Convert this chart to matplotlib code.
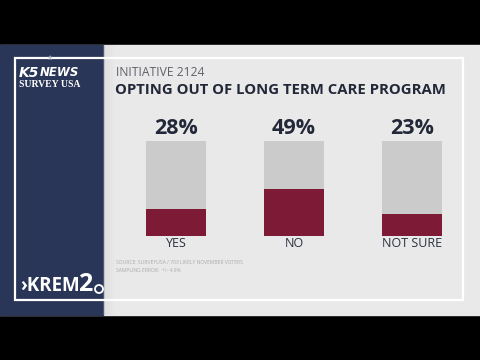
import matplotlib
matplotlib.use("Agg")
import matplotlib.pyplot as plt
from matplotlib.patches import Rectangle, Circle

# chart data
categories = ["YES", "NO", "NOT SURE"]
percents = [28, 49, 23]
kicker = "INITIATIVE 2124"
title = "OPTING OUT OF LONG TERM CARE PROGRAM"
source_lines = ["SOURCE: SURVEYUSA / 703 LIKELY NOVEMBER VOTERS",
                "SAMPLING ERROR:  +/- 4.9%"]

RED = "#7d1a36"
TRACK = "#cbcbcb"
BG = "#e9e9e9"
NAVY = "#2a3657"
INK = "#222838"

fig = plt.figure(figsize=(4.8, 3.6), dpi=100)
fig.patch.set_facecolor("black")

# background layer in pixel coordinates
bg = fig.add_axes([0, 0, 1, 1])
bg.set_xlim(0, 480)
bg.set_ylim(360, 0)
bg.axis("off")
bg.add_patch(Rectangle((0, 45), 480, 270, color=BG, zorder=0))
bg.add_patch(Rectangle((0, 45), 103, 270, color=NAVY, zorder=1))
# soft shadow next to the navy panel
for i in range(12):
    bg.add_patch(Rectangle((103 + i, 45), 1, 270, color="#bfbfbf",
                           alpha=0.25 * (1 - i / 12), lw=0, zorder=1))
bg.add_patch(Rectangle((15, 58), 448, 242, fill=False, ec="white", lw=1.6, zorder=3))
bg.text(50, 58, "★", color="#c8cde0", fontsize=5, ha="center", va="center", zorder=4)

# station logos
bg.text(19, 73, "K5", color="white", fontsize=10, fontweight="bold", style="italic",
        family="DejaVu Sans", va="center", zorder=4)
bg.text(40, 73, "NEWS", color="white", fontsize=8.5, fontweight="bold", style="italic",
        family="DejaVu Sans", va="center", zorder=4)
bg.text(19, 84.5, "SURVEY USA", color="white", fontsize=7, fontweight="bold",
        family="Liberation Serif", va="center", zorder=4)
bg.text(20, 286, "›KREM", color="white", fontsize=13.5, fontweight="bold",
        family="Open Sans", va="center", zorder=4)
bg.text(78, 284.5, "2", color="white", fontsize=18, fontweight="bold",
        family="Open Sans", va="center", zorder=4)
bg.add_patch(Circle((99, 289), 4, fc="none", ec="white", lw=1.3, zorder=4))

# headings
bg.text(116, 72, kicker, color="#5e6168", fontsize=8.7, family="Open Sans",
        va="center", zorder=4)
bg.text(115, 90, title, color=INK, fontsize=10.7, fontweight="bold",
        family="Open Sans", va="center", zorder=4)
bg.text(116, 262, source_lines[0], color="#a9abaf", fontsize=3.6,
        family="Open Sans", va="center", zorder=4)
bg.text(116, 270, source_lines[1], color="#a9abaf", fontsize=3.6,
        family="Open Sans", va="center", zorder=4)

# bar panel
ax = fig.add_axes([146 / 480, (360 - 236) / 360, 296 / 480, 95 / 360])
ax.set_facecolor("none")
x = list(range(len(categories)))
ax.bar(x, [100] * len(x), width=0.51, color=TRACK)
ax.bar(x, percents, width=0.51, color=RED)
ax.set_xlim(-0.255, 2.255)
ax.set_ylim(0, 100)
ax.axis("off")
for xi, p, c in zip(x, percents, categories):
    ax.text(xi, 113.5, f"{p}%", ha="center", va="center", fontsize=15.5,
            fontweight="bold", color=INK, family="Open Sans", clip_on=False)
    ax.text(xi, -8, c, ha="center", va="center", fontsize=9,
            color="#2c3140", family="Open Sans", clip_on=False)

fig.savefig("out.png", dpi=100, facecolor=fig.get_facecolor())
